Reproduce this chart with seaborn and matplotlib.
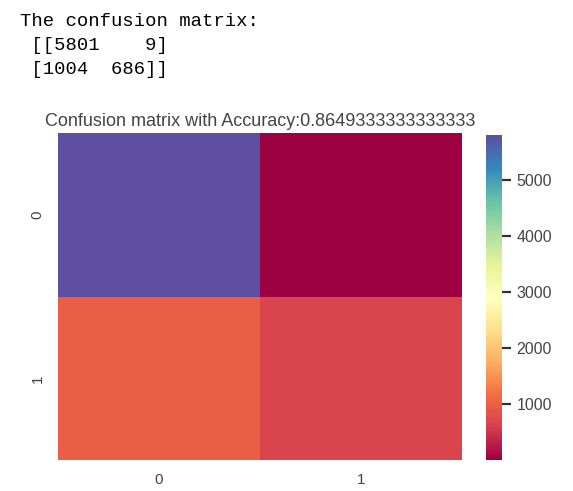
import numpy as np
import seaborn as sns
import matplotlib.pyplot as plt

# confusion matrix values
cm_row0 = [5801, 9]
cm_row1 = [1004, 686]
labels = ["0", "1"]
accuracy = 0.8649333333333333

sns.set_theme()
plt.rcParams['font.family'] = ['Liberation Sans', 'DejaVu Sans']

cm = np.array([cm_row0, cm_row1])

fig = plt.figure(figsize=(5.73, 4.91), dpi=100)
ax = fig.add_axes([0.1012, 0.0631, 0.705, 0.666])
cax = fig.add_axes([0.848, 0.0631, 0.028, 0.662])

# the printed header above the plot, like a notebook cell output
header = "The confusion matrix:\n " + str(cm)
fig.text(20 / 573, 1 - 13 / 491, header, family='Liberation Mono', fontsize=13.6,
         va='top', ha='left', color='black', linespacing=1.55)

sns.heatmap(cm, cmap="Spectral", xticklabels=labels, yticklabels=labels, ax=ax, cbar_ax=cax)
ax.set_title("Confusion matrix with Accuracy:" + str(accuracy), fontsize=13, color='#444444', pad=5)
ax.tick_params(labelsize=11, colors='#444444')

# colorbar ticks: small dark dashes on the right side, no grid
cax.grid(False)
cax.set_axisbelow(False)
cax.yaxis.set_ticks_position('right')
cax.tick_params(axis='y', which='major', direction='out', right=True, length=6.5, width=1.6,
                color='#333333', labelsize=11.5, labelcolor='#444444', pad=4)
fig.canvas.draw()
for t in cax.yaxis.get_major_ticks():
    t.tick2line.set_visible(True)
    t.tick2line.set_zorder(10)

fig.savefig("out.png", dpi=100)
